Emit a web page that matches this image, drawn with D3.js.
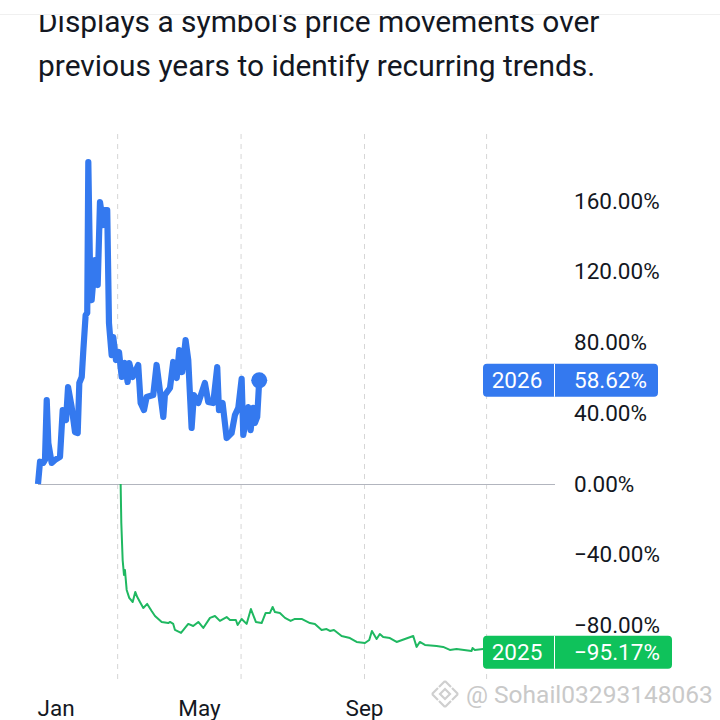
<!DOCTYPE html>
<html>
<head>
<meta charset="utf-8">
<script src="https://cdn.jsdelivr.net/npm/d3@7"></script>
<style>
  html, body { margin: 0; padding: 0; background: #fff; }
  svg { display: block; }
  text { font-family: Roboto, sans-serif; fill: #131722; }
</style>
</head>
<body>
<div id="chart"></div>
<script>
// Days since Jan 1 and percent change
var days2026 = [0, 1.5, 3.9, 5.2, 6.5, 7.7, 10.2, 12.7, 16.4, 18.4, 20.9, 22.4, 25.1, 27.6, 29.6, 30.8, 32.6, 33.8, 35.5, 36.7,
    37.5, 38.7, 40, 42.5, 44.5, 46.2, 48.7, 49.7, 51.6, 52.9, 54.9, 56.1, 58.1, 60.4, 62.4, 64.8, 66.8, 68, 70.6, 74.7,
    76.5, 79, 81, 85.9, 88.4, 93.4, 94.6, 98.4, 100.8, 103.4, 105.3, 107.5, 110, 112, 114.5, 116.2, 119.5, 124.4, 126.9, 130.6,
    133.6, 134.9, 137.6, 140.6, 144.3, 146.8, 149.3, 151.8, 153, 156.7, 158.5, 160.4, 161.7, 163.4, 164.9];
var values2026 = [0, 12.6, 11.9, 13.6, 47.5, 23.2, 11.9, 13.6, 15.3, 41.8, 36.2, 54.8, 43.5, 29.4, 28.8, 57.1, 60.5, 75.7, 95.5, 96.7,
    182, 124.9, 104, 126.6, 112.5, 159.4, 146.4, 154.9, 154.9, 91, 72.9, 83.1, 70.1, 74.6, 60.5, 68.4, 57.7, 68.4, 60.5, 67.3,
    45.8, 41.8, 49.2, 50.3, 67.3, 37.9, 50.3, 54.3, 69, 59.9, 75.7, 63.3, 81.4, 70.1, 31.7, 50.3, 45.8, 57.1, 46.4, 45.8,
    66.1, 41.8, 45.8, 26, 28.8, 39, 43, 59.4, 27.7, 43.5, 30.5, 43, 34.5, 37.9, 58.62];

var days2025 = [61.6, 62.1, 63.1, 64.1, 64.8, 66.1, 68, 70.6, 72.5, 74, 76, 78.5, 81.4, 84.7, 87.2, 92.2, 97.1, 98.4, 100.8, 102.1,
    106.6, 112, 115.7, 119.5, 123.2, 128.2, 131.9, 135.6, 140.6, 143.1, 147.5, 148.8, 151.8, 155.5, 158.7, 162.4, 166.7, 169.7, 172.9, 174.9,
    176.6, 180.3, 184.1, 188.3, 191.5, 196.5, 202.7, 206.4, 211.4, 215.1, 217.6, 220.6, 226.3, 232.5, 237.5, 243.7, 246.9, 248.9, 252.4, 254.8,
    257.3, 262.3, 267.3, 273.5, 279.7, 282.2, 284.6, 288.4, 297.1, 302, 307, 312, 323.2, 323.9, 325.6, 331.8];
var values2025 = [0, -22, -43, -51.4, -48.6, -59.9, -64.4, -66.7, -61, -63.9, -66.7, -70.1, -67.8, -71.8, -74.6, -78, -78.6, -78, -79.1, -82.5,
    -84.2, -79.1, -80.3, -78, -81.4, -75.7, -74.6, -77.4, -75.2, -76.9, -76.9, -79.7, -76.3, -79.1, -70.7, -78, -78.6, -72.9, -72.9, -69.5,
    -72.4, -72.9, -75.7, -77.4, -76.3, -76.3, -78.6, -79.1, -82.5, -82, -83.1, -82.5, -85.9, -87.1, -89.3, -89.9, -88.2, -83.1, -87.6, -84.8,
    -86.5, -87.1, -89.3, -87.6, -85.9, -92.1, -89.3, -91, -91.6, -92.1, -93.8, -93.3, -94.4, -92.7, -93.8, -93.3];

var yTicks = [160, 120, 80, 40, 0, -40, -80];
var gridMonths = [2, 5, 8, 11];       // Mar, Jun, Sep, Dec
var labelMonths = [0, 4, 8];          // Jan, May, Sep
var last2026 = 58.62;
var last2025 = -95.17;
var subtitle = ["Displays a symbol's price movements over", "previous years to identify recurring trends."];
var watermark = "@ Sohail03293148063";

var size = 720;
var fontSize = '22.5px';
var blue = '#3479ef';
var green = '#0fc25b';
var lineGreen = '#1fb861';

function toDate(d) { return new Date(Date.UTC(2026, 0, 1) + d * 864e5); }
function monthDate(m) { return new Date(Date.UTC(2026, m, 1)); }

var x = d3.scaleUtc().domain([monthDate(0), monthDate(8)]).range([38, 364]);
var y = d3.scaleLinear().domain([0, 160]).range([484, 201]);

var svg = d3.select('#chart').append('svg')
    .attr('width', size)
    .attr('height', size);

// Subtitle, the first line is cut by the sticky header above it
svg.append('text').attr('x', 38).attr('y', 32).style('font-size', '29.9px').text(subtitle[0]);
svg.append('text').attr('x', 38).attr('y', 76).style('font-size', '29.9px').text(subtitle[1]);
svg.append('rect').attr('width', size).attr('height', 14).attr('fill', '#fff');
svg.append('line').attr('x1', 0).attr('x2', size).attr('y1', 14.5).attr('y2', 14.5).attr('stroke', '#f0f0f0');

// Dashed month gridlines
svg.selectAll('.grid')
    .data(gridMonths)
    .enter()
    .append('line')
    .attr('class', 'grid')
    .attr('x1', d => x(monthDate(d)) + 0.5)
    .attr('x2', d => x(monthDate(d)) + 0.5)
    .attr('y1', 134)
    .attr('y2', 680)
    .attr('stroke', '#d6d6d6')
    .attr('stroke-dasharray', '5,5');

// Zero line
svg.append('line')
    .attr('x1', 38).attr('x2', 555)
    .attr('y1', y(0) + 0.5).attr('y2', y(0) + 0.5)
    .attr('stroke', '#b2b5be');

var line = d3.line().x(d => x(toDate(d[0]))).y(d => y(d[1]));

svg.append('path')
    .datum(d3.zip(days2025, values2025))
    .attr('d', line)
    .attr('fill', 'none')
    .attr('stroke', lineGreen)
    .attr('stroke-width', 2)
    .attr('stroke-linejoin', 'round');

svg.append('path')
    .datum(d3.zip(days2026, values2026))
    .attr('d', line)
    .attr('fill', 'none')
    .attr('stroke', blue)
    .attr('stroke-width', 6.2)
    .attr('stroke-linejoin', 'round');

svg.append('circle')
    .attr('cx', x(toDate(days2026[days2026.length - 1])))
    .attr('cy', y(last2026))
    .attr('r', 8)
    .attr('fill', blue);

// Price axis
function pct(v) { return d3.format('.2f')(v).replace('-', '\u2212') + '%'; }

var yAxis = svg.append('g')
    .attr('transform', 'translate(574,0)')
    .call(d3.axisRight(y).tickValues(yTicks).tickSize(0).tickPadding(0).tickFormat(pct));
yAxis.select('.domain').remove();
yAxis.selectAll('text').style('font-size', fontSize).style('font-family', 'Roboto, sans-serif').attr('fill', '#131722');

// Time axis
var xAxis = svg.append('g')
    .attr('transform', 'translate(0,700)')
    .call(d3.axisBottom(x)
        .tickValues(labelMonths.map(monthDate))
        .tickSize(0).tickPadding(0)
        .tickFormat(d3.utcFormat('%b')));
xAxis.select('.domain').remove();
xAxis.selectAll('text')
    .style('font-size', fontSize)
    .style('font-family', 'Roboto, sans-serif')
    .attr('fill', '#131722')
    .attr('x', (d, i) => i === 0 ? -1 : 0)
    .attr('text-anchor', (d, i) => i === 0 ? 'start' : 'middle');

// Year tags on the price scale
function drawTag(year, value, color, right) {
    var cy = y(value);
    var g = svg.append('g');
    g.append('rect')
        .attr('x', 483).attr('y', cy - 16.5)
        .attr('width', right - 483).attr('height', 33)
        .attr('rx', 4)
        .attr('fill', color);
    g.append('line')
        .attr('x1', 554.5).attr('x2', 554.5)
        .attr('y1', cy - 16.5).attr('y2', cy + 16.5)
        .attr('stroke', '#fff');
    g.append('text')
        .attr('x', 517).attr('y', cy + 8)
        .attr('text-anchor', 'middle')
        .style('font-size', fontSize).style('fill', '#fff')
        .text(year);
    g.append('text')
        .attr('x', 574).attr('y', cy + 8)
        .style('font-size', fontSize).style('fill', '#fff')
        .text(pct(value));
}
drawTag('2026', last2026, blue, 658);
drawTag('2025', last2025, green, 672);

// Watermark
var mark = svg.append('g').attr('transform', 'translate(445,694)')
    .attr('fill', 'none').attr('stroke', '#cfcfcf').attr('stroke-width', 2.2);
mark.append('path').attr('d', 'M0,-13 L6,-7 M0,-13 L-6,-7 M-13,0 L-7,-6 M-13,0 L-7,6 M13,0 L7,-6 M13,0 L7,6 M0,13 L-6,7 M0,13 L6,7');
mark.append('path').attr('d', 'M0,-5 L5,0 L0,5 L-5,0 Z');
svg.append('text')
    .attr('x', 466).attr('y', 703)
    .style('font-size', '24.5px').style('fill', '#c9c9c9')
    .text(watermark);
</script>
</body>
</html>
